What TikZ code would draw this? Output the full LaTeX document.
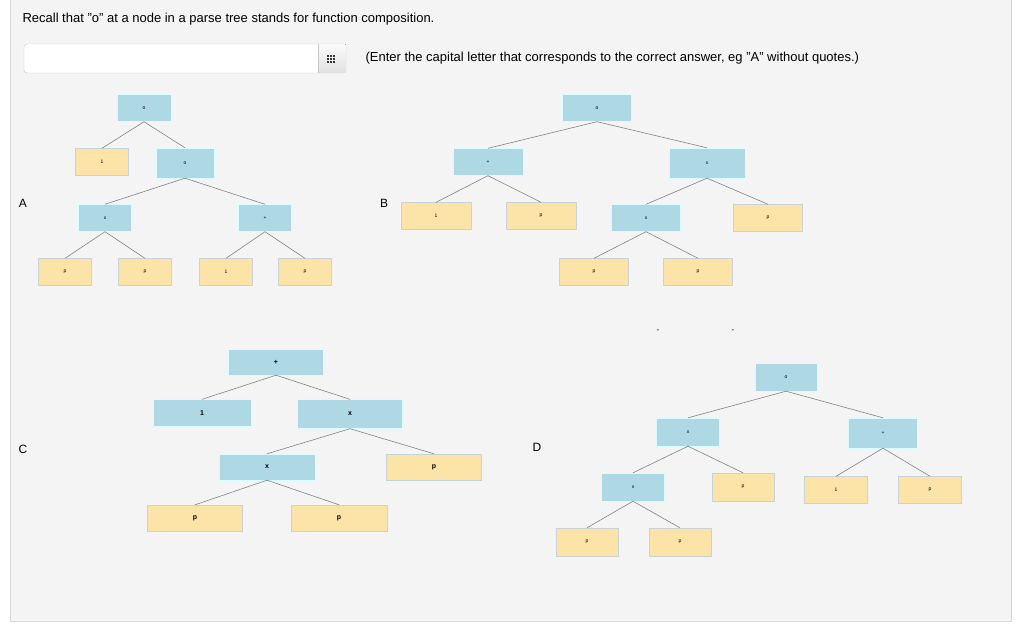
\documentclass[tikz,border=0pt]{standalone}
\usepackage{fontspec}
\setmainfont{Liberation Sans}
\begin{document}
\begin{tikzpicture}[x=1pt,y=-1pt,
  bl/.style={draw=blue!8!cyan!15, fill={rgb,255:red,174;green,216;blue,228}, minimum height=27pt, inner sep=0pt, font=\fontsize{5}{6}\selectfont},
  yl/.style={draw={rgb,255:red,200;green,210;blue,215}, fill={rgb,255:red,252;green,228;blue,168}, minimum height=27pt, inner sep=0pt, font=\fontsize{5}{6}\selectfont},
  big/.style={font=\fontsize{7}{8}\selectfont\bfseries},
  ed/.style={draw={rgb,255:red,130;green,130;blue,130}, line width=0.6pt},
  lab/.style={font=\fontsize{12}{14}\selectfont}]
\useasboundingbox (0,0) rectangle (1024,631);
\fill[white] (0,0) rectangle (1024,631);
\draw[fill={rgb,255:red,244;green,244;blue,244}, draw={rgb,255:red,215;green,215;blue,215}] (10,-2) rectangle (1011,621);
\node[anchor=west, font=\fontsize{13}{15}\selectfont] (title) at (19,19) {Recall that "o" at a node in a parse tree stands for function composition.};
\draw[rounded corners=3pt, fill=white, draw={rgb,255:red,200;green,200;blue,200}] (24,44) rectangle (346,73);
\fill[top color={rgb,255:red,250;green,250;blue,250}, bottom color={rgb,255:red,225;green,225;blue,225}] (318.5,44.5) rectangle (345.5,72.5);
\draw[draw={rgb,255:red,200;green,200;blue,200}] (318,44) -- (318,73);
\foreach \i in {0,1,2}{\foreach \j in {0,1,2}{\fill[black!80] (327+3*\i,55+3*\j) rectangle ++(2,2);}}
\node[anchor=west, font=\fontsize{13}{15}\selectfont] (enter) at (362,58) {(Enter the capital letter that corresponds to the correct answer, eg "A" without quotes.)};
% labels
\node[lab] (LA) at (23,203) {A};
\node[lab] (LB) at (384,203) {B};
\node[lab] (LC) at (23,449) {C};
\node[lab] (LD) at (537,447) {D};
\node[font=\fontsize{8}{8}\selectfont] (d1) at (658,331) {-};
\node[font=\fontsize{8}{8}\selectfont] (d2) at (733,331) {-};
% Tree A
\node[bl,minimum width=54pt] (a0) at (144,108) {o};
\node[yl,minimum width=53pt] (a1) at (102,162) {1};
\node[bl,minimum width=58pt,minimum height=30pt] (a2) at (185,163) {o};
\node[bl,minimum width=53pt] (a3) at (105,218) {x};
\node[bl,minimum width=53pt] (a4) at (265,218) {+};
\node[yl,minimum width=53pt] (a5) at (65,272) {p};
\node[yl,minimum width=53pt] (a6) at (145,272) {p};
\node[yl,minimum width=53pt] (a7) at (226,272) {1};
\node[yl,minimum width=53pt] (a8) at (305,272) {p};
\foreach \p/\c in {a0/a1,a0/a2,a2/a3,a2/a4,a3/a5,a3/a6,a4/a7,a4/a8}{\draw[ed] (\p.south) -- (\c.north);}
% Tree B
\node[bl,minimum width=69pt] (b0) at (597,108) {o};
\node[bl,minimum width=70pt] (b1) at (488,162) {+};
\node[bl,minimum width=76pt,minimum height=30pt] (b2) at (707,163) {x};
\node[yl,minimum width=70pt] (b3) at (436,216) {1};
\node[yl,minimum width=70pt] (b4) at (541,216) {p};
\node[bl,minimum width=69pt] (b5) at (646,218) {x};
\node[yl,minimum width=69pt] (b6) at (768,218) {p};
\node[yl,minimum width=69pt] (b7) at (594,272) {p};
\node[yl,minimum width=69pt] (b8) at (698,272) {p};
\foreach \p/\c in {b0/b1,b0/b2,b1/b3,b1/b4,b2/b5,b2/b6,b5/b7,b5/b8}{\draw[ed] (\p.south) -- (\c.north);}
% Tree C
\node[bl,big,minimum width=95pt,minimum height=26pt] (c0) at (276,362) {+};
\node[bl,big,minimum width=98pt] (c1) at (202,413) {1};
\node[bl,big,minimum width=105pt,minimum height=29pt] (c2) at (350,414) {x};
\node[bl,big,minimum width=96pt,minimum height=26pt] (c3) at (267,467) {x};
\node[yl,big,minimum width=95pt,minimum height=26pt] (c4) at (434,467) {p};
\node[yl,big,minimum width=95pt,minimum height=26pt] (c5) at (195,518) {p};
\node[yl,big,minimum width=96pt,minimum height=26pt] (c6) at (339,518) {p};
\foreach \p/\c in {c0/c1,c0/c2,c2/c3,c2/c4,c3/c5,c3/c6}{\draw[ed] (\p.south) -- (\c.north);}
% Tree D
\node[bl,minimum width=62pt,minimum height=28pt] (d0) at (786,377) {o};
\node[bl,minimum width=63pt,minimum height=28pt] (d1n) at (688,432) {x};
\node[bl,minimum width=69pt,minimum height=30pt] (d2n) at (883,433) {+};
\node[bl,minimum width=63pt,minimum height=28pt] (d3) at (633,487) {x};
\node[yl,minimum width=62pt,minimum height=28pt] (d4) at (743,487) {p};
\node[yl,minimum width=63pt,minimum height=27pt] (d5) at (836,490) {1};
\node[yl,minimum width=63pt,minimum height=27pt] (d6) at (930,490) {p};
\node[yl,minimum width=62pt,minimum height=28pt] (d7) at (587,542) {p};
\node[yl,minimum width=62pt,minimum height=28pt] (d8) at (680,542) {p};
\foreach \p/\c in {d0/d1n,d0/d2n,d1n/d3,d1n/d4,d2n/d5,d2n/d6,d3/d7,d3/d8}{\draw[ed] (\p.south) -- (\c.north);}
\end{tikzpicture}
\end{document}
